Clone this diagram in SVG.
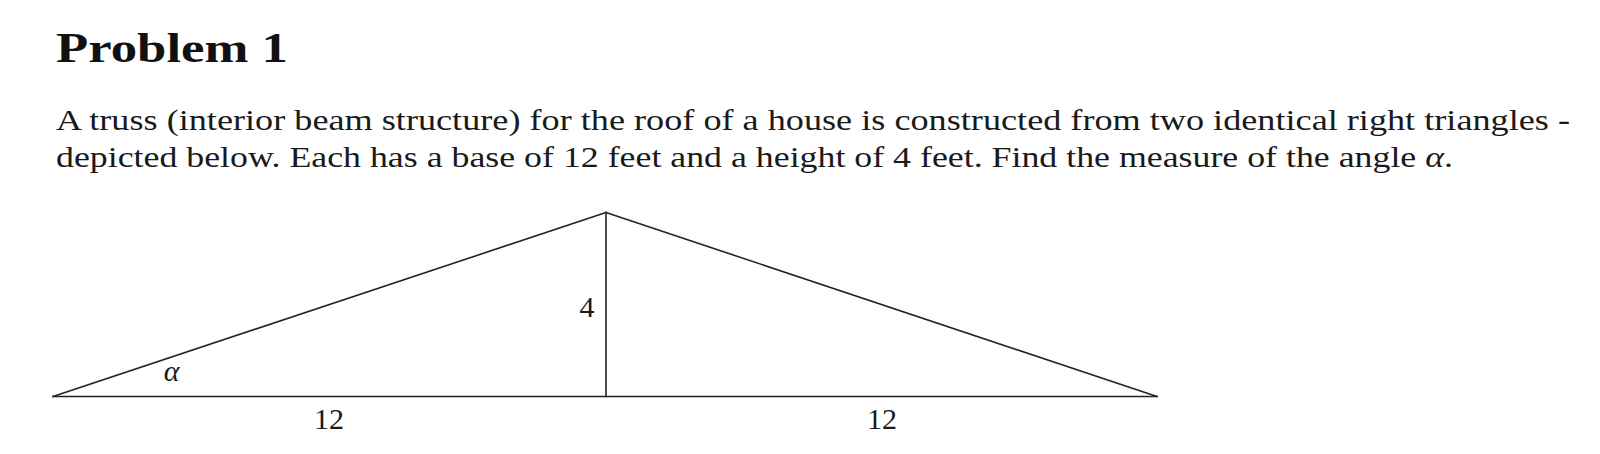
<svg xmlns="http://www.w3.org/2000/svg" width="1600" height="454" viewBox="0 0 1600 454">
  <style>
    .title { font-family: "Liberation Serif", "DejaVu Serif", serif; font-weight: bold; font-size: 42px; fill: #111; }
    .body { font-family: "Liberation Serif", "DejaVu Serif", serif; font-size: 29px; fill: #1a1a1a; }
    .lbl { font-family: "Liberation Serif", "DejaVu Serif", serif; font-size: 30px; fill: #1a1a1a; text-anchor: middle; }
    .edge { stroke: #222; stroke-width: 1.6; fill: none; stroke-linecap: square; }
  </style>
  <rect width="1600" height="454" fill="#fff"/>
  <g id="heading">
    <text class="title" x="56" y="62" textLength="232" lengthAdjust="spacingAndGlyphs">Problem 1</text>
  </g>
  <g id="statement">
    <text class="body" x="56" y="130" textLength="1514" lengthAdjust="spacingAndGlyphs">A truss (interior beam structure) for the roof of a house is constructed from two identical right triangles -</text>
    <text class="body" x="56" y="166.5" textLength="1397" lengthAdjust="spacingAndGlyphs">depicted below. Each has a base of 12 feet and a height of 4 feet. Find the measure of the angle <tspan font-style="italic">α</tspan>.</text>
  </g>
  <g id="connectors">
    <line class="edge" x1="53" y1="396.5" x2="1157" y2="396.5"/>
    <line class="edge" x1="606" y1="396.5" x2="606" y2="212.5"/>
    <line class="edge" x1="53" y1="396.5" x2="606" y2="212.5"/>
    <line class="edge" x1="606" y1="212.5" x2="1157" y2="396.5"/>
  </g>
  <g id="left-triangle">
    <text class="lbl" x="171.5" y="381" font-style="italic">α</text>
    <text class="lbl" x="329" y="429">12</text>
    <text class="lbl" x="587" y="316.5">4</text>
  </g>
  <g id="right-triangle">
    <text class="lbl" x="882" y="429">12</text>
  </g>
</svg>
